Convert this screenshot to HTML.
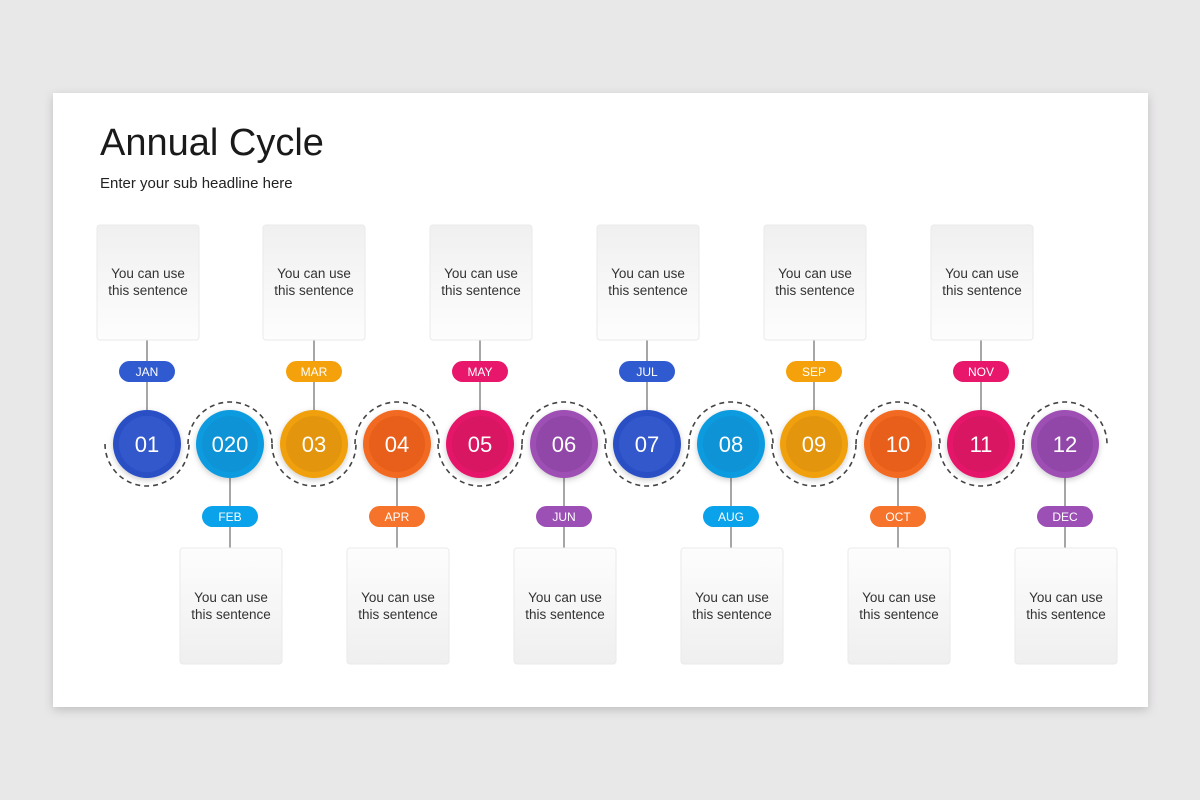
<!DOCTYPE html>
<html><head><meta charset="utf-8"><style>
html,body{margin:0;padding:0;background:#e9e8e9;}
svg{display:block;font-family:"Liberation Sans",Arial,sans-serif;}
</style></head><body>
<svg width="1200" height="800" viewBox="0 0 1200 800" xmlns="http://www.w3.org/2000/svg">
<defs>
<filter id="sh" x="-10%" y="-10%" width="120%" height="130%"><feDropShadow dx="0" dy="3" stdDeviation="5" flood-color="#000" flood-opacity="0.18"/></filter>
<filter id="cs" x="-30%" y="-30%" width="160%" height="160%"><feDropShadow dx="0" dy="2" stdDeviation="3" flood-color="#000" flood-opacity="0.2"/></filter>
<linearGradient id="tg" x1="0" y1="0" x2="0" y2="1"><stop offset="0" stop-color="#f0f0f0"/><stop offset="1" stop-color="#fdfdfd"/></linearGradient>
<linearGradient id="bg" x1="0" y1="0" x2="0" y2="1"><stop offset="0" stop-color="#fdfdfd"/><stop offset="1" stop-color="#efefef"/></linearGradient>
</defs>
<rect x="53" y="93" width="1095" height="614" fill="#fff" filter="url(#sh)"/>
<text x="100" y="155" font-size="38" fill="#1a1a1a">Annual Cycle</text>
<text x="100" y="188" font-size="15" fill="#222">Enter your sub headline here</text>

<g stroke="#888" stroke-width="1.5">
<line x1="147" y1="340" x2="147" y2="412"/><line x1="314" y1="340" x2="314" y2="412"/><line x1="480" y1="340" x2="480" y2="412"/><line x1="647" y1="340" x2="647" y2="412"/><line x1="814" y1="340" x2="814" y2="412"/><line x1="981" y1="340" x2="981" y2="412"/>
<line x1="230" y1="476" x2="230" y2="548"/><line x1="397" y1="476" x2="397" y2="548"/><line x1="564" y1="476" x2="564" y2="548"/><line x1="731" y1="476" x2="731" y2="548"/><line x1="898" y1="476" x2="898" y2="548"/><line x1="1065" y1="476" x2="1065" y2="548"/>
</g>

<g stroke="#eaeaea" stroke-width="1">
<rect x="97" y="225" width="102" height="115" rx="3" fill="url(#tg)"/>
<rect x="263" y="225" width="102" height="115" rx="3" fill="url(#tg)"/>
<rect x="430" y="225" width="102" height="115" rx="3" fill="url(#tg)"/>
<rect x="597" y="225" width="102" height="115" rx="3" fill="url(#tg)"/>
<rect x="764" y="225" width="102" height="115" rx="3" fill="url(#tg)"/>
<rect x="931" y="225" width="102" height="115" rx="3" fill="url(#tg)"/>
<rect x="180" y="548" width="102" height="116" rx="3" fill="url(#bg)"/>
<rect x="347" y="548" width="102" height="116" rx="3" fill="url(#bg)"/>
<rect x="514" y="548" width="102" height="116" rx="3" fill="url(#bg)"/>
<rect x="681" y="548" width="102" height="116" rx="3" fill="url(#bg)"/>
<rect x="848" y="548" width="102" height="116" rx="3" fill="url(#bg)"/>
<rect x="1015" y="548" width="102" height="116" rx="3" fill="url(#bg)"/>
</g>
<g font-size="13.5" fill="#333" text-anchor="middle">
<text x="148" y="278">You can use</text><text x="148" y="295">this sentence</text>
<text x="314" y="278">You can use</text><text x="314" y="295">this sentence</text>
<text x="481" y="278">You can use</text><text x="481" y="295">this sentence</text>
<text x="648" y="278">You can use</text><text x="648" y="295">this sentence</text>
<text x="815" y="278">You can use</text><text x="815" y="295">this sentence</text>
<text x="982" y="278">You can use</text><text x="982" y="295">this sentence</text>
<text x="231" y="602">You can use</text><text x="231" y="619">this sentence</text>
<text x="398" y="602">You can use</text><text x="398" y="619">this sentence</text>
<text x="565" y="602">You can use</text><text x="565" y="619">this sentence</text>
<text x="732" y="602">You can use</text><text x="732" y="619">this sentence</text>
<text x="899" y="602">You can use</text><text x="899" y="619">this sentence</text>
<text x="1066" y="602">You can use</text><text x="1066" y="619">this sentence</text>
</g>

<g font-size="12" fill="#fff" text-anchor="middle">
<rect x="119" y="361" width="56" height="21" rx="10.5" fill="#2f5ad0"/><text x="147" y="376">JAN</text>
<rect x="286" y="361" width="56" height="21" rx="10.5" fill="#f4a10c"/><text x="314" y="376">MAR</text>
<rect x="452" y="361" width="56" height="21" rx="10.5" fill="#e8176c"/><text x="480" y="376">MAY</text>
<rect x="619" y="361" width="56" height="21" rx="10.5" fill="#2f5ad0"/><text x="647" y="376">JUL</text>
<rect x="786" y="361" width="56" height="21" rx="10.5" fill="#f4a10c"/><text x="814" y="376">SEP</text>
<rect x="953" y="361" width="56" height="21" rx="10.5" fill="#e8176c"/><text x="981" y="376">NOV</text>
<rect x="202" y="506" width="56" height="21" rx="10.5" fill="#0aa2ea"/><text x="230" y="521">FEB</text>
<rect x="369" y="506" width="56" height="21" rx="10.5" fill="#f5732b"/><text x="397" y="521">APR</text>
<rect x="536" y="506" width="56" height="21" rx="10.5" fill="#9c4fb4"/><text x="564" y="521">JUN</text>
<rect x="703" y="506" width="56" height="21" rx="10.5" fill="#0aa2ea"/><text x="731" y="521">AUG</text>
<rect x="870" y="506" width="56" height="21" rx="10.5" fill="#f5732b"/><text x="898" y="521">OCT</text>
<rect x="1037" y="506" width="56" height="21" rx="10.5" fill="#9c4fb4"/><text x="1065" y="521">DEC</text>
</g>

<g fill="none" stroke="#444" stroke-width="1.6" stroke-dasharray="5,4">
<path d="M105,444 A42,42 0 0 0 189,444"/>
<path d="M188,444 A42,42 0 0 1 272,444"/>
<path d="M272,444 A42,42 0 0 0 356,444"/>
<path d="M355,444 A42,42 0 0 1 439,444"/>
<path d="M438,444 A42,42 0 0 0 522,444"/>
<path d="M522,444 A42,42 0 0 1 606,444"/>
<path d="M605,444 A42,42 0 0 0 689,444"/>
<path d="M689,444 A42,42 0 0 1 773,444"/>
<path d="M772,444 A42,42 0 0 0 856,444"/>
<path d="M856,444 A42,42 0 0 1 940,444"/>
<path d="M939,444 A42,42 0 0 0 1023,444"/>
<path d="M1023,444 A42,42 0 0 1 1107,444"/>
</g>

<g filter="url(#cs)">
<circle cx="147" cy="444" r="34" fill="#2a50c4"/><circle cx="147" cy="444" r="28" fill="#3058cc"/>
<circle cx="230" cy="444" r="34" fill="#0a9be0"/><circle cx="230" cy="444" r="28" fill="#0c93d6"/>
<circle cx="314" cy="444" r="34" fill="#f0a00a"/><circle cx="314" cy="444" r="28" fill="#e3950a"/>
<circle cx="397" cy="444" r="34" fill="#f26a22"/><circle cx="397" cy="444" r="28" fill="#e85e1a"/>
<circle cx="480" cy="444" r="34" fill="#e5146a"/><circle cx="480" cy="444" r="28" fill="#d91262"/>
<circle cx="564" cy="444" r="34" fill="#9d4fb3"/><circle cx="564" cy="444" r="28" fill="#9146a8"/>
<circle cx="647" cy="444" r="34" fill="#2a50c4"/><circle cx="647" cy="444" r="28" fill="#3058cc"/>
<circle cx="731" cy="444" r="34" fill="#0a9be0"/><circle cx="731" cy="444" r="28" fill="#0c93d6"/>
<circle cx="814" cy="444" r="34" fill="#f0a00a"/><circle cx="814" cy="444" r="28" fill="#e3950a"/>
<circle cx="898" cy="444" r="34" fill="#f26a22"/><circle cx="898" cy="444" r="28" fill="#e85e1a"/>
<circle cx="981" cy="444" r="34" fill="#e5146a"/><circle cx="981" cy="444" r="28" fill="#d91262"/>
<circle cx="1065" cy="444" r="34" fill="#9d4fb3"/><circle cx="1065" cy="444" r="28" fill="#9146a8"/>
</g>
<g font-size="22" fill="#fff" text-anchor="middle">
<text x="147" y="452">01</text><text x="230" y="452">020</text><text x="314" y="452">03</text><text x="397" y="452">04</text>
<text x="480" y="452">05</text><text x="564" y="452">06</text><text x="647" y="452">07</text><text x="731" y="452">08</text>
<text x="814" y="452">09</text><text x="898" y="452">10</text><text x="981" y="452">11</text><text x="1065" y="452">12</text>
</g>
</svg>
</body></html>
